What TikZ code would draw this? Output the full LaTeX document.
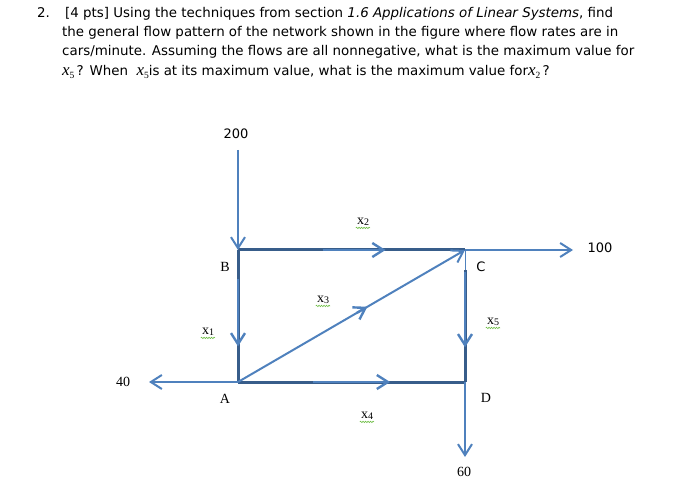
\documentclass[tikz,border=0pt]{standalone}
\usepackage{fontspec}
\setmainfont{DejaVu Sans}
\newfontfamily\serifface{Liberation Serif}
\usetikzlibrary{arrows.meta,decorations.markings,decorations.pathmorphing}
\definecolor{flowblue}{RGB}{79,129,189}
\definecolor{edgeblue}{RGB}{56,93,138}
\definecolor{spellgreen}{RGB}{110,190,70}
\newcommand\qx[1]{{\fontsize{17}{17}\serifface\itshape x}\raisebox{-2.5pt}{\fontsize{9.5}{9.5}\serifface #1}}
\newcommand\lx[1]{x\raisebox{-1pt}{\fontsize{10}{10}\selectfont #1}}

\begin{document}
\begin{tikzpicture}[x=1pt,y=-1pt,
  txt/.style={anchor=base west,inner sep=0pt,font=\fontsize{13.4}{15}\selectfont},
  sans/.style={inner sep=1pt,font=\fontsize{13}{15}\selectfont},
  serif/.style={inner sep=1pt,font=\fontsize{14}{16}\serifface},
  xlab/.style={inner sep=1pt,font=\fontsize{14}{15}\serifface},
  flow/.style={draw=flowblue,line width=2pt},
  edge/.style={draw=edgeblue,line width=3pt},
  barb/.style={-{Straight Barb[length=11pt,width=14pt]}},
  midflow/.style 2 args={postaction={decorate,decoration={markings,
    mark=at position #1 with {\draw[flow,line width=2.4pt,barb] (-#2,0) -- (0,0);}}}},
  squiggle/.style={draw=spellgreen,line width=0.6pt,decorate,
    decoration={snake,amplitude=0.7pt,segment length=2.5pt}}]
\useasboundingbox (0,0) rectangle (691,489);

% question
\node[txt] (num) at (37,18) {2.};
\node[txt] (q1) at (65,18) {[4 pts] Using the techniques from section \textit{1.6 Applications of Linear Systems}, find};
\node[txt] (q2) at (62,37) {the general flow pattern of the network shown in the figure where flow rates are in};
\node[txt] (q3) at (62,56) {cars/minute. Assuming the flows are all nonnegative, what is the maximum value for};
\node[txt] (q4) at (62,76) {\qx{5}\,? When \ \qx{5}is at its maximum value, what is the maximum value for\qx{2}\,?};

% intersections
\coordinate (A) at (238,382);
\coordinate (B) at (238,250);
\coordinate (C) at (465,250);
\coordinate (D) at (465,382);
\coordinate (Cd) at (465,270);
\coordinate (in200) at (238,150);
\coordinate (out100) at (573,250);
\coordinate (out40) at (149,382);
\coordinate (out60) at (465,457);

% labels
\node[sans] (n200) at (236,134) {200};
\node[sans] (n100) at (600,248) {100};
\node[sans] (lC) at (481,267) {C};
\node[serif] (lB) at (225,267) {B};
\node[serif] (lA) at (225,399) {A};
\node[serif] (lD) at (486,398) {D};
\node[serif] (n40) at (123,382) {40};
\node[serif] (n60) at (464,472) {60};
\node[xlab] (x1) at (208,332) {\lx{1}};
\node[xlab] (x2) at (363,222) {\lx{2}};
\node[xlab] (x3) at (323,300) {\lx{3}};
\node[xlab] (x4) at (367,416) {\lx{4}};
\node[xlab] (x5) at (493,322) {\lx{5}};
\foreach \n in {x1,x2,x3,x4,x5}
  \draw[squiggle] ([yshift=-1pt]\n.south west) -- ([yshift=-1pt]\n.south east);

% network
\draw[flow,line width=1pt] (C) -- (Cd);
\draw[edge,midflow={0.65}{63pt}] (B) -- (C);
\draw[edge,midflow={0.67}{77pt}] (A) -- (D);
\draw[edge,midflow={0.73}{67pt}] (B) -- (A);
\draw[edge,midflow={0.69}{75pt}] (Cd) -- (D);
\draw[flow,barb,midflow={0.57}{12pt}] (A) -- (C);
\draw[flow,barb] (in200) -- (B);
\draw[flow,barb] (C) -- (out100);
\draw[flow,barb] (A) -- (out40);
\draw[flow,barb] (D) -- (out60);
\end{tikzpicture}
\end{document}
